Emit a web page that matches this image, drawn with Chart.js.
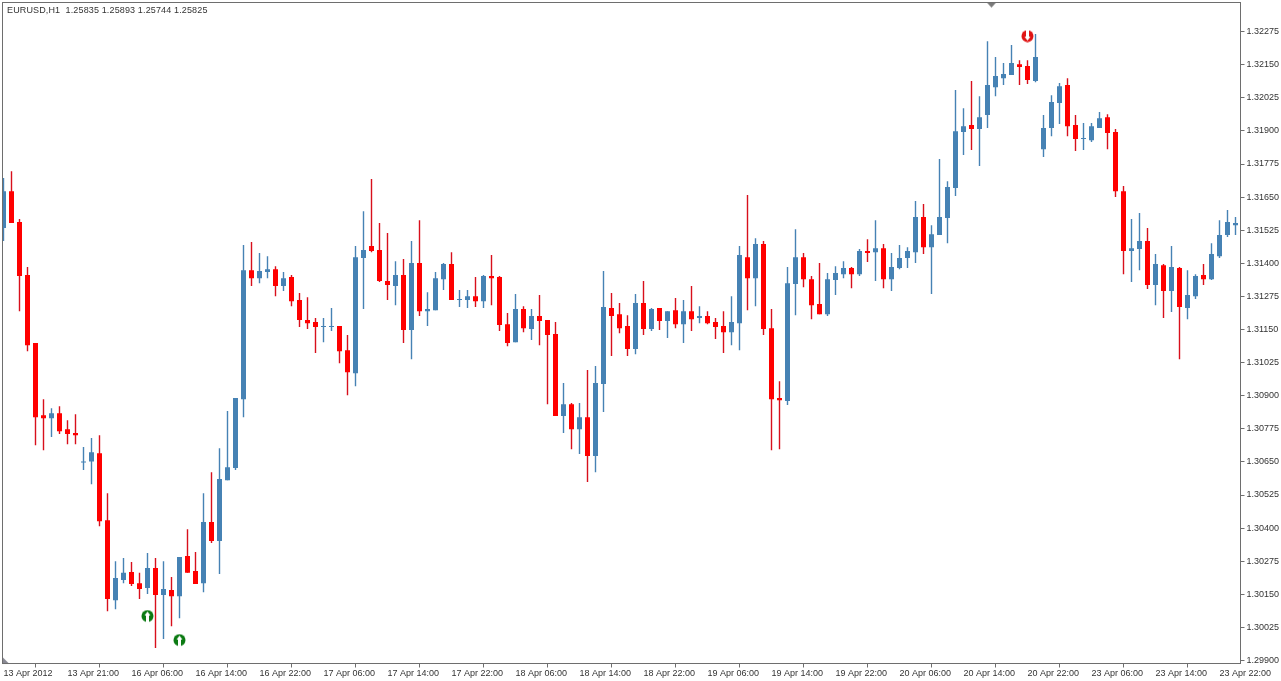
<!DOCTYPE html>
<html>
<head>
<meta charset="utf-8">
<title>EURUSD,H1</title>
<script src="https://cdn.jsdelivr.net/npm/chart.js@4/dist/chart.umd.js"></script>
<style>
  html, body { margin: 0; padding: 0; background: #fff; overflow: hidden; }
  #wrap { position: relative; width: 1281px; height: 681px; }
  #title { position: absolute; left: 7px; top: 5px; font: 9px "Liberation Sans", sans-serif; letter-spacing: 0.14px; color: #333; white-space: pre; }
</style>
</head>
<body>
<div id="wrap">
  <canvas id="chart" width="1281" height="681"></canvas>
  <div id="title">EURUSD,H1  1.25835 1.25893 1.25744 1.25825</div>
</div>
<script>
// ---------- Data ----------
const timeLabels = ["13 Apr 2012", "13 Apr 21:00", "16 Apr 06:00", "16 Apr 14:00", "16 Apr 22:00",
  "17 Apr 06:00", "17 Apr 14:00", "17 Apr 22:00", "18 Apr 06:00", "18 Apr 14:00", "18 Apr 22:00",
  "19 Apr 06:00", "19 Apr 14:00", "19 Apr 22:00", "20 Apr 06:00", "20 Apr 14:00", "20 Apr 22:00",
  "23 Apr 06:00", "23 Apr 14:00", "23 Apr 22:00"];
const barsPerLabel = 8;

const priceTicks = [1.29900, 1.30025, 1.30150, 1.30275, 1.30400, 1.30525, 1.30650, 1.30775, 1.30900, 1.31025,
  1.31150, 1.31275, 1.31400, 1.31525, 1.31650, 1.31775, 1.31900, 1.32025, 1.32150, 1.32275];

const opens = [
  1.31533, 1.31672, 1.31556, 1.31356, 1.31099, 1.30826, 1.30815, 1.30834, 1.30773, 1.30759,
  1.30648, 1.30652, 1.30683, 1.30430, 1.30128, 1.30204, 1.30234, 1.30192, 1.30174, 1.30249,
  1.30147, 1.30166, 1.30143, 1.30295, 1.30238, 1.30192, 1.30423, 1.30351, 1.30581, 1.30627,
  1.30887, 1.31374, 1.31344, 1.31367, 1.31378, 1.31314, 1.31348, 1.31261, 1.31186, 1.31178,
  1.31159, 1.31159, 1.31163, 1.31072, 1.30985, 1.31420, 1.31465, 1.31450, 1.31333, 1.31314,
  1.31356, 1.31148, 1.31401, 1.31219, 1.31223, 1.31340, 1.31397, 1.31261, 1.31261, 1.31276,
  1.31257, 1.31352, 1.31348, 1.31170, 1.31102, 1.31227, 1.31152, 1.31201, 1.31186, 1.31133,
  1.30823, 1.30868, 1.30773, 1.30819, 1.30672, 1.30944, 1.31231, 1.31208, 1.31163, 1.31076,
  1.31250, 1.31152, 1.31231, 1.31182, 1.31223, 1.31170, 1.31219, 1.31193, 1.31201, 1.31178,
  1.31163, 1.31140, 1.31174, 1.31423, 1.31344, 1.31473, 1.31155, 1.30891, 1.30880, 1.31322,
  1.31423, 1.31340, 1.31246, 1.31208, 1.31337, 1.31359, 1.31382, 1.31359, 1.31446, 1.31442,
  1.31457, 1.31340, 1.31382, 1.31420, 1.31442, 1.31575, 1.31461, 1.31507, 1.31571, 1.31684,
  1.31896, 1.31922, 1.31907, 1.31960, 1.32065, 1.32099, 1.32111, 1.32152, 1.32145, 1.32088,
  1.31831, 1.31911, 1.32005, 1.32073, 1.31922, 1.31869, 1.31865, 1.31911, 1.31952, 1.31896,
  1.31672, 1.31446, 1.31454, 1.31484, 1.31318, 1.31393, 1.31295, 1.31382, 1.31231, 1.31276,
  1.31356, 1.31340, 1.31427, 1.31507, 1.31544];

const closes = [
  1.31672, 1.31552, 1.31352, 1.31091, 1.30819, 1.30815, 1.30834, 1.30766, 1.30755, 1.30751,
  1.30652, 1.30686, 1.30426, 1.30132, 1.30212, 1.30231, 1.30189, 1.30170, 1.30249, 1.30147,
  1.30170, 1.30143, 1.30291, 1.30231, 1.30189, 1.30423, 1.30351, 1.30585, 1.30630, 1.30891,
  1.31374, 1.31344, 1.31371, 1.31378, 1.31314, 1.31344, 1.31257, 1.31186, 1.31174, 1.31159,
  1.31163, 1.31163, 1.31068, 1.30989, 1.31423, 1.31450, 1.31446, 1.31333, 1.31318, 1.31356,
  1.31148, 1.31401, 1.31219, 1.31227, 1.31344, 1.31397, 1.31261, 1.31265, 1.31276, 1.31257,
  1.31352, 1.31344, 1.31167, 1.31099, 1.31227, 1.31155, 1.31201, 1.31182, 1.31129, 1.30823,
  1.30868, 1.30773, 1.30819, 1.30672, 1.30948, 1.31235, 1.31201, 1.31155, 1.31076, 1.31250,
  1.31152, 1.31227, 1.31182, 1.31219, 1.31170, 1.31219, 1.31189, 1.31201, 1.31174, 1.31159,
  1.31140, 1.31178, 1.31431, 1.31344, 1.31473, 1.31152, 1.30887, 1.30883, 1.31325, 1.31423,
  1.31340, 1.31242, 1.31208, 1.31340, 1.31363, 1.31382, 1.31359, 1.31446, 1.31439, 1.31457,
  1.31340, 1.31386, 1.31420, 1.31446, 1.31575, 1.31461, 1.31510, 1.31575, 1.31688, 1.31899,
  1.31918, 1.31907, 1.31952, 1.32073, 1.32107, 1.32115, 1.32156, 1.32141, 1.32092, 1.32179,
  1.31911, 1.32009, 1.32069, 1.31918, 1.31869, 1.31873, 1.31918, 1.31948, 1.31892, 1.31672,
  1.31446, 1.31457, 1.31484, 1.31318, 1.31397, 1.31295, 1.31386, 1.31235, 1.31280, 1.31352,
  1.31340, 1.31435, 1.31507, 1.31556, 1.31552];

const highs = [
  1.31722, 1.31748, 1.31567, 1.31386, 1.31099, 1.30887, 1.30853, 1.30860, 1.30807, 1.30830,
  1.30706, 1.30740, 1.30751, 1.30532, 1.30275, 1.30287, 1.30272, 1.30231, 1.30306, 1.30287,
  1.30275, 1.30215, 1.30291, 1.30396, 1.30310, 1.30532, 1.30611, 1.30702, 1.30842, 1.30891,
  1.31469, 1.31480, 1.31439, 1.31427, 1.31389, 1.31367, 1.31356, 1.31288, 1.31272, 1.31193,
  1.31193, 1.31231, 1.31163, 1.31129, 1.31465, 1.31597, 1.31718, 1.31552, 1.31514, 1.31408,
  1.31416, 1.31484, 1.31563, 1.31291, 1.31367, 1.31401, 1.31442, 1.31299, 1.31299, 1.31348,
  1.31356, 1.31431, 1.31352, 1.31212, 1.31284, 1.31238, 1.31227, 1.31280, 1.31186, 1.31178,
  1.30948, 1.30872, 1.30872, 1.30997, 1.31012, 1.31371, 1.31288, 1.31250, 1.31204, 1.31284,
  1.31333, 1.31231, 1.31231, 1.31219, 1.31269, 1.31261, 1.31314, 1.31238, 1.31219, 1.31193,
  1.31219, 1.31276, 1.31465, 1.31658, 1.31495, 1.31484, 1.31227, 1.30955, 1.31386, 1.31529,
  1.31439, 1.31352, 1.31401, 1.31363, 1.31389, 1.31408, 1.31386, 1.31454, 1.31491, 1.31563,
  1.31473, 1.31439, 1.31469, 1.31461, 1.31635, 1.31624, 1.31544, 1.31794, 1.31710, 1.32054,
  1.31986, 1.32088, 1.32031, 1.32239, 1.32179, 1.32156, 1.32224, 1.32167, 1.32167, 1.32266,
  1.31960, 1.32035, 1.32081, 1.32099, 1.31960, 1.31930, 1.31930, 1.31971, 1.31963, 1.31907,
  1.31692, 1.31567, 1.31590, 1.31533, 1.31435, 1.31397, 1.31465, 1.31386, 1.31374, 1.31359,
  1.31397, 1.31476, 1.31563, 1.31601, 1.31575];

const lows = [
  1.31484, 1.31552, 1.31219, 1.31068, 1.30713, 1.30694, 1.30744, 1.30755, 1.30717, 1.30717,
  1.30619, 1.30566, 1.30407, 1.30086, 1.30094, 1.30192, 1.30181, 1.30132, 1.30151, 1.29947,
  1.29981, 1.30029, 1.30060, 1.30231, 1.30189, 1.30158, 1.30344, 1.30227, 1.30581, 1.30619,
  1.30819, 1.31314, 1.31325, 1.31344, 1.31276, 1.31295, 1.31238, 1.31159, 1.31152, 1.31061,
  1.31102, 1.31144, 1.31023, 1.30902, 1.30936, 1.31227, 1.31442, 1.31329, 1.31261, 1.31242,
  1.31099, 1.31038, 1.31201, 1.31163, 1.31223, 1.31299, 1.31261, 1.31235, 1.31231, 1.31235,
  1.31231, 1.31242, 1.31144, 1.31087, 1.31102, 1.31140, 1.31110, 1.31091, 1.30868, 1.30823,
  1.30759, 1.30698, 1.30680, 1.30574, 1.30611, 1.30838, 1.31050, 1.31136, 1.31050, 1.31057,
  1.31129, 1.31144, 1.31148, 1.31118, 1.31155, 1.31099, 1.31144, 1.31174, 1.31170, 1.31114,
  1.31061, 1.31091, 1.31072, 1.31223, 1.31238, 1.31129, 1.30694, 1.30698, 1.30865, 1.31204,
  1.31310, 1.31189, 1.31208, 1.31201, 1.31280, 1.31344, 1.31306, 1.31352, 1.31405, 1.31333,
  1.31306, 1.31295, 1.31378, 1.31382, 1.31401, 1.31435, 1.31284, 1.31507, 1.31476, 1.31654,
  1.31809, 1.31828, 1.31767, 1.31911, 1.32031, 1.32073, 1.32111, 1.32073, 1.32077, 1.32084,
  1.31801, 1.31880, 1.31926, 1.31880, 1.31824, 1.31828, 1.31858, 1.31911, 1.31831, 1.31650,
  1.31359, 1.31329, 1.31374, 1.31303, 1.31242, 1.31193, 1.31216, 1.31038, 1.31189, 1.31265,
  1.31318, 1.31337, 1.31420, 1.31499, 1.31507];

// arrows put on the chart by the trading signal: [bar index, price]
const buyArrows = [[18, 1.30068], [22, 1.29977]];
const sellArrows = [[128, 1.32258]];
const shiftMarker = [[123.5, 1.32375]];
const cornerMarker = [[0, 1.29900]];

// ---------- Icons ----------
const BLUE = "#4682B4";
const RED = "#FF0000";
const WICK_RED = "#D80F1C";
const FRAME = "#6E6E6E";
const TEXT = "#333333";

function makeIcon(size, draw) {
  const c = document.createElement("canvas");
  c.width = size;
  c.height = size;
  draw(c.getContext("2d"));
  return c;
}

function arrowIcon(color, up) {
  return makeIcon(13, (g) => {
    g.fillStyle = color;
    g.beginPath();
    g.arc(6.5, 6.5, 6, 0, Math.PI * 2);
    g.fill();
    g.fillStyle = "#fff";
    g.beginPath();
    const tip = up ? 2 : 11;
    const shoulder = up ? 6 : 7;
    const foot = up ? 13 : 0;
    g.moveTo(6.5, tip);
    g.lineTo(9.5, shoulder);
    g.lineTo(8, shoulder);
    g.lineTo(8, foot);
    g.lineTo(5, foot);
    g.lineTo(5, shoulder);
    g.lineTo(3.5, shoulder);
    g.closePath();
    g.fill();
  });
}

const shiftIcon = makeIcon(11, (g) => {
  g.fillStyle = "#7A7A7A";
  g.beginPath();
  g.moveTo(1, 3);
  g.lineTo(10, 3);
  g.lineTo(5.5, 8);
  g.closePath();
  g.fill();
});

const cornerIcon = makeIcon(15, (g) => {
  g.fillStyle = "#8A8A94";
  g.beginPath();
  g.moveTo(6.5, 4);
  g.lineTo(13, 10.5);
  g.lineTo(6.5, 10.5);
  g.closePath();
  g.fill();
});

// ---------- Chart ----------
const points = (list) => list.map(([x, y]) => ({ x, y }));
const isUp = (i) => closes[i] >= opens[i];

function markerSet(list, icon) {
  return {
    type: "scatter",
    data: points(list),
    pointStyle: icon,
    pointRadius: 6,
    order: 0,
    clip: false,
  };
}

const framePlugin = {
  id: "frame",
  afterDraw(chart) {
    const { ctx, chartArea: a } = chart;
    ctx.save();
    ctx.strokeStyle = FRAME;
    ctx.lineWidth = 1;
    ctx.strokeRect(a.left, a.top, a.right - a.left, a.bottom - a.top);
    ctx.restore();
  },
};

new Chart(document.getElementById("chart"), {
  type: "bar",
  data: {
    datasets: [
      markerSet(buyArrows, arrowIcon("#0B7A12", true)),
      markerSet(sellArrows, arrowIcon("#E01414", false)),
      markerSet(shiftMarker, shiftIcon),
      markerSet(cornerMarker, cornerIcon),
      {
        // candle bodies
        data: opens.map((o, i) => ({ x: i, y: [o, closes[i]] })),
        backgroundColor: opens.map((_, i) => (isUp(i) ? BLUE : RED)),
        barThickness: 5,
        maxBarThickness: 5,
        grouped: false,
        inflateAmount: 0,
        borderWidth: 0,
        order: 1,
      },
      {
        // wicks, a bit over 1px so the colour survives
        data: lows.map((l, i) => ({ x: i, y: [l, highs[i]] })),
        backgroundColor: lows.map((_, i) => (isUp(i) ? BLUE : WICK_RED)),
        barThickness: 1.4,
        maxBarThickness: 1.4,
        grouped: false,
        inflateAmount: 0,
        borderWidth: 0,
        order: 2,
      },
    ],
  },
  options: {
    responsive: false,
    animation: false,
    devicePixelRatio: 1,
    layout: { autoPadding: false, padding: { left: 2.5, top: 2.5, right: 0, bottom: 0 } },
    plugins: { legend: { display: false }, tooltip: { enabled: false }, title: { display: false } },
    events: [],
    scales: {
      x: {
        type: "linear",
        offset: false,
        min: -0.125,
        max: 154.625,
        afterBuildTicks: (axis) => {
          axis.ticks = timeLabels.map((_, i) => ({ value: i * barsPerLabel }));
        },
        afterFit: (axis) => {
          axis.height = 17.5;
          axis.paddingLeft = 0;
          axis.paddingRight = 0;
        },
        border: { display: true, color: FRAME },
        grid: { drawOnChartArea: false, drawTicks: true, tickLength: 4, color: FRAME },
        ticks: {
          autoSkip: false,
          maxRotation: 0,
          minRotation: 0,
          align: "start",
          padding: 1,
          color: TEXT,
          font: { family: "Liberation Sans", size: 9 },
          callback: (v) => timeLabels[v / barsPerLabel],
        },
      },
      y: {
        type: "linear",
        position: "right",
        min: 1.298887,
        max: 1.323849,
        afterBuildTicks: (axis) => {
          axis.ticks = priceTicks.map((value) => ({ value }));
        },
        afterFit: (axis) => {
          axis.width = 40.5;
          axis.paddingTop = 0;
          axis.paddingBottom = 0;
        },
        border: { display: true, color: FRAME },
        grid: { drawOnChartArea: false, drawTicks: true, tickLength: 4, color: FRAME },
        ticks: {
          autoSkip: false,
          padding: 2,
          color: TEXT,
          font: { family: "Liberation Sans", size: 9 },
          callback: (v) => v.toFixed(5),
        },
      },
    },
  },
  plugins: [framePlugin],
});
</script>
</body>
</html>
